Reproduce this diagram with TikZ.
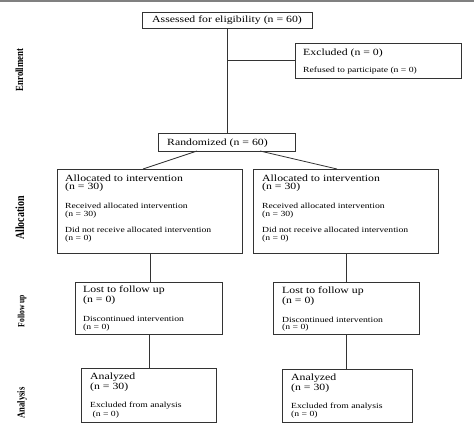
\documentclass[tikz,border=0pt]{standalone}
\usepackage{fontspec}
\setmainfont{Liberation Serif}
\newcommand\txtL[1]{\scalebox{1.24}[1]{\fontsize{9.5}{10}\selectfont #1}}
\newcommand\txtS[1]{\scalebox{1.24}[1]{\fontsize{7.8}{8.5}\selectfont #1}}
\newcommand\lab[2]{\scalebox{1}[1.24]{\fontsize{#1}{#1}\selectfont\bfseries #2}}
\begin{document}
\begin{tikzpicture}[x=1pt,y=-1pt,
  box/.style={draw=black!80, line width=0.8pt, rectangle, inner sep=0pt, anchor=north west},
  conn/.style={draw=black!80, line width=0.8pt},
  tx/.style={anchor=west, inner sep=0pt},
  sidelab/.style={rotate=90, inner sep=0pt}]
\useasboundingbox (0,0) rectangle (474,435);
\fill[black!50] (0,0) rectangle (474,2.5);

% boxes
\node[box, minimum width=170pt, minimum height=16pt] (assess) at (142,12) {};
\node[box, minimum width=166pt, minimum height=35pt] (excl) at (295,43) {};
\node[box, minimum width=137pt, minimum height=18pt] (rand) at (158,133) {};
\node[box, minimum width=185pt, minimum height=84pt] (allocL) at (57,169) {};
\node[box, minimum width=185pt, minimum height=84pt] (allocR) at (253,169) {};
\node[box, minimum width=147pt, minimum height=52pt] (lostL) at (75,282) {};
\node[box, minimum width=146pt, minimum height=52pt] (lostR) at (273,282) {};
\node[box, minimum width=135pt, minimum height=54pt] (anaL) at (81,368) {};
\node[box, minimum width=130pt, minimum height=53pt] (anaR) at (282,369) {};

% texts
\node[inner sep=0pt] (tAssess) at (227,20) {\txtL{Assessed for eligibility (n = 60)}};
\node[tx] (tExcl1) at (303,53) {\txtL{Excluded (n = 0)}};
\node[tx] (tExcl2) at (303,71) {\txtS{Refused to participate (n = 0)}};
\node[tx] (tRand) at (167,143) {\txtL{Randomized (n = 60)}};

\node[tx] (aL1) at (65,178) {\txtL{Allocated to intervention}};
\node[tx] (aL2) at (65,187.5) {\txtL{(n = 30)}};
\node[tx] (aL3) at (65,206) {\txtS{Received allocated intervention}};
\node[tx] (aL4) at (65,214.5) {\txtS{(n = 30)}};
\node[tx] (aL5) at (65,230) {\txtS{Did not receive allocated intervention}};
\node[tx] (aL6) at (65,238.5) {\txtS{(n = 0)}};

\node[tx] (aR1) at (262,178) {\txtL{Allocated to intervention}};
\node[tx] (aR2) at (262,187.5) {\txtL{(n = 30)}};
\node[tx] (aR3) at (262,206) {\txtS{Received allocated intervention}};
\node[tx] (aR4) at (262,214.5) {\txtS{(n = 30)}};
\node[tx] (aR5) at (262,230) {\txtS{Did not receive allocated intervention}};
\node[tx] (aR6) at (262,238.5) {\txtS{(n = 0)}};

\node[tx] (lL1) at (83,290) {\txtL{Lost to follow up}};
\node[tx] (lL2) at (83,300.5) {\txtL{(n = 0)}};
\node[tx] (lL3) at (83,319) {\txtS{Discontinued intervention}};
\node[tx] (lL4) at (83,327.5) {\txtS{(n = 0)}};

\node[tx] (lR1) at (282,291) {\txtL{Lost to follow up}};
\node[tx] (lR2) at (282,301.5) {\txtL{(n = 0)}};
\node[tx] (lR3) at (282,319.5) {\txtS{Discontinued intervention}};
\node[tx] (lR4) at (282,328) {\txtS{(n = 0)}};

\node[tx] (nL1) at (90,377) {\txtL{Analyzed}};
\node[tx] (nL2) at (90,387.5) {\txtL{(n = 30)}};
\node[tx] (nL3) at (90,406) {\txtS{Excluded from analysis}};
\node[tx] (nL4) at (90,414.5) {\txtS{\ (n = 0)}};

\node[tx] (nR1) at (291,378) {\txtL{Analyzed}};
\node[tx] (nR2) at (291,388) {\txtL{(n = 30)}};
\node[tx] (nR3) at (291,406.5) {\txtS{Excluded from analysis}};
\node[tx] (nR4) at (291,414.5) {\txtS{(n = 0)}};

% side labels
\node[sidelab] (labEnr) at (19.5,70) {\lab{8.8}{Enrollment}};
\node[sidelab] (labAll) at (20,218) {\lab{10}{Allocation}};
\node[sidelab] (labFol) at (22,311) {\lab{7.6}{Follow up}};
\node[sidelab] (labAna) at (22,403) {\lab{8.6}{Analysis}};

% connectors
\coordinate (rL) at (197,151);
\coordinate (rR) at (260,151);
\coordinate (aLt) at (143,169);
\coordinate (aRt) at (337,169);
\draw[conn] (assess.south) -- (assess.south |- rand.north);
\draw[conn] (excl.west) -- (excl.west -| assess.south);
\draw[conn] (rL) -- (aLt);
\draw[conn] (rR) -- (aRt);
\draw[conn] (allocL.south) -- (allocL.south |- lostL.north);
\draw[conn] (allocR.south) -- (allocR.south |- lostR.north);
\draw[conn] (lostL.south) -- (lostL.south |- anaL.north);
\draw[conn] (lostR.south) -- (lostR.south |- anaR.north);
\end{tikzpicture}
\end{document}
